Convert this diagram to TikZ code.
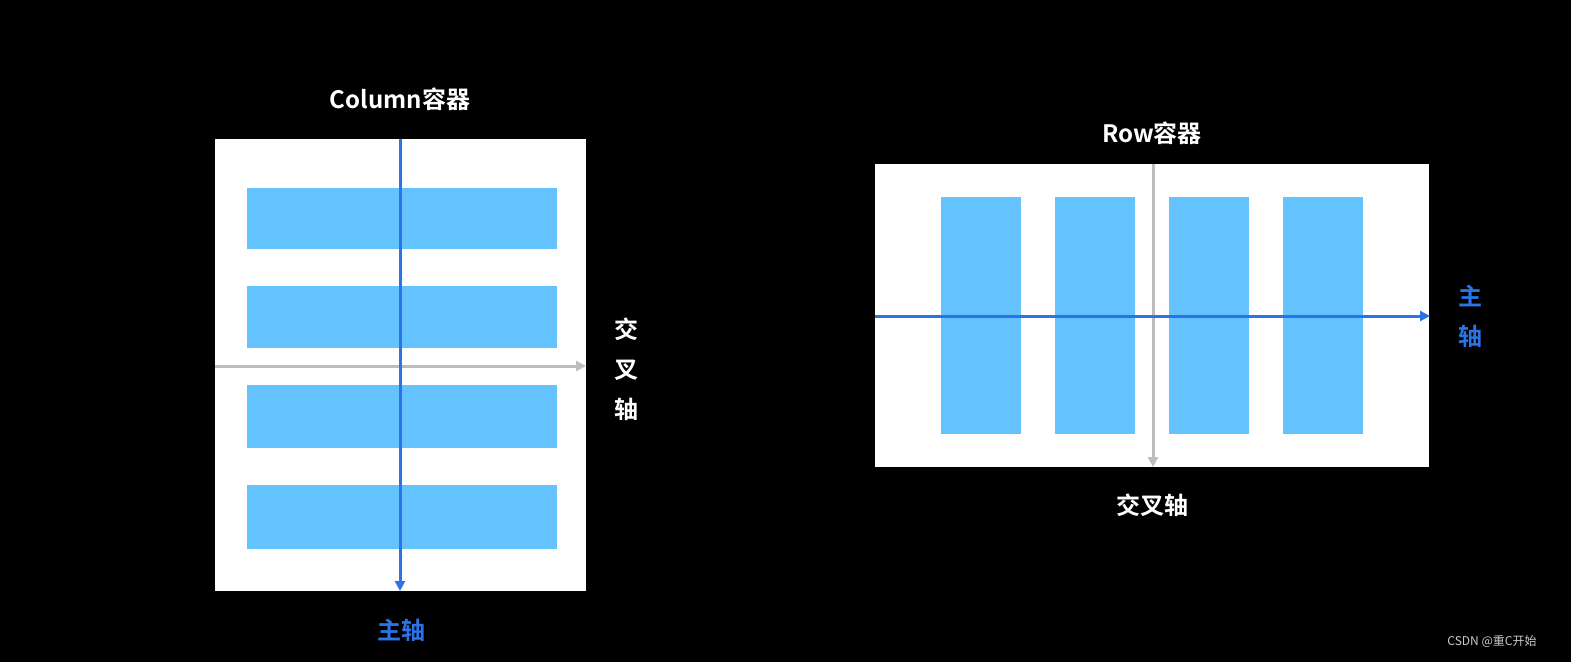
\documentclass[tikz,border=0pt]{standalone}
\usepackage{fontspec}
\setmainfont{Noto Sans CJK SC}[BoldFont={* Bold}]
\usetikzlibrary{arrows.meta}
\definecolor{barc}{HTML}{64C3FD}
\definecolor{axb}{HTML}{2A74E8}
\definecolor{axg}{HTML}{BDBDBD}
\tikzset{
 bar/.style={fill=barc,draw=none},
 panel/.style={fill=white,draw=none},
 mainax/.style={axb,line width=3pt,-{Triangle[length=10pt,width=10pt]}},
 crossax/.style={axg,line width=3pt,-{Triangle[length=10pt,width=10pt]}},
 lbl/.style={font=\bfseries\fontsize{24}{28}\selectfont,white},
 vlbl/.style={font=\bfseries\fontsize{24}{40}\selectfont,align=center},
}
\begin{document}
\begin{tikzpicture}[x=1pt,y=-1pt]
\fill[black] (0,0) rectangle (1571,662);
\useasboundingbox (0,0) rectangle (1571,662);
% left
\fill[panel] (215,139) rectangle (586,591);
\foreach \a/\b in {188/249,286/348,385/448,485/549}
  \fill[bar] (247,\a) rectangle (557,\b);
\coordinate (ct) at (400,139); \coordinate (cb) at (400,591);
\coordinate (cl) at (215,366); \coordinate (cr) at (586,366);
\draw[crossax] (cl) -- (cr);
\draw[mainax] (ct) -- (cb);
\node[lbl] (ctitle) at (400,99) {Column容器};
\node[lbl,axb] (cmain) at (401,630) {主轴};
\node[vlbl,white] (ccross) at (626,369) {交\\叉\\轴};
% right
\fill[panel] (875,164) rectangle (1429,467);
\foreach \a in {941,1055,1169,1283}
  \fill[bar] (\a,197) rectangle ({\a+80},434);
\coordinate (rl) at (875,316); \coordinate (rr) at (1430,316);
\coordinate (rt) at (1153,164); \coordinate (rb) at (1153,467);
\draw[crossax] (rt) -- (rb);
\draw[mainax] (rl) -- (rr);
\node[lbl] (rtitle) at (1152,133) {Row容器};
\node[vlbl,axb] (rmain) at (1470,316) {主\\轴};
\node[lbl] (rcross) at (1152,505) {交叉轴};
\node[font=\fontsize{12}{14}\selectfont,white!80!black] (wm) at (1492,641) {CSDN @重C开始};
\end{tikzpicture}
\end{document}
